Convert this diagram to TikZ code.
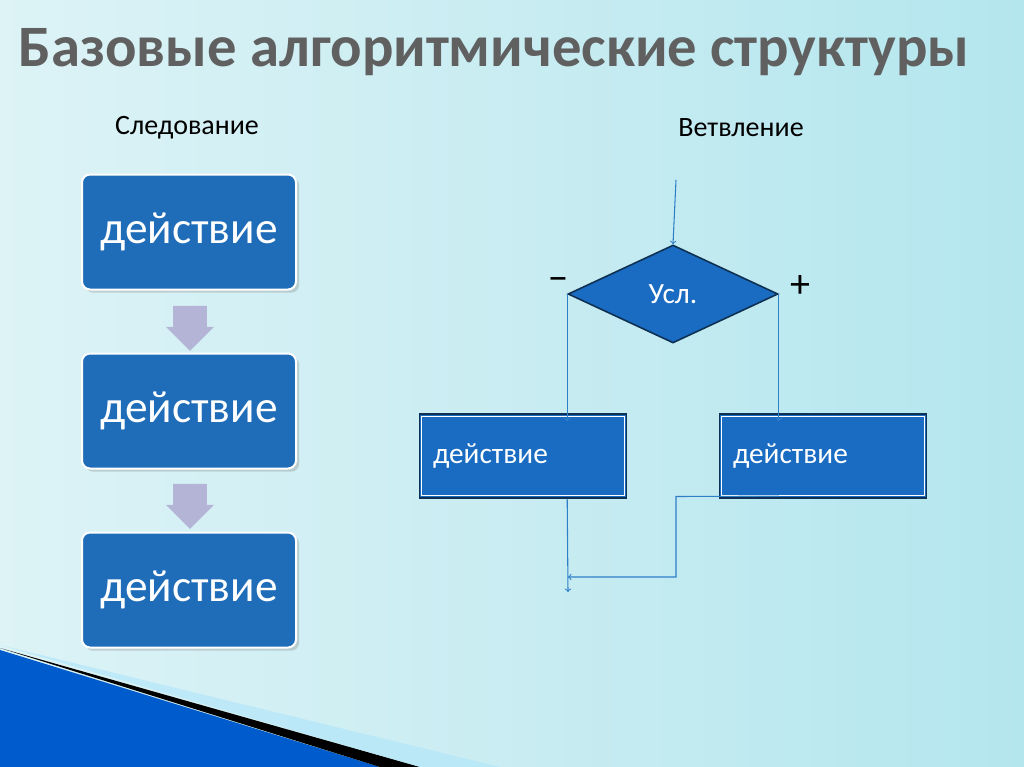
\documentclass[tikz,border=0pt]{standalone}
\usepackage{fontspec}
\setmainfont{Carlito}
\usetikzlibrary{shapes.geometric,shapes.arrows,shadows}
\definecolor{bx}{HTML}{1F6DB8}
\definecolor{bx2}{HTML}{1A6CC2}
\definecolor{ln}{HTML}{2F7FC8}
\definecolor{bgA}{HTML}{DDF3F6}
\definecolor{bgB}{HTML}{B4E6EE}
\newlength\px \setlength\px{0.75pt}
\tikzset{
 seq/.style={draw=white,line width=1.5pt,fill=bx,rounded corners=6pt,minimum width=214\px,minimum height=115\px,text=white,font=\fontsize{34}{38}\selectfont,drop shadow={opacity=0.3}},
 act/.style={draw=bx!45!black,line width=1.2pt,fill=bx2,minimum width=207\px,minimum height=84\px,text=white,font=\fontsize{22}{26}\selectfont,align=left,text width=180\px},
 con/.style={draw=ln,line width=0.8pt,->,>=to},
 bar/.style={single arrow,draw=none,fill=blue!30!gray!45,shape border rotate=270,minimum height=45\px,minimum width=48\px,single arrow head extend=2\px}
}
\begin{document}
\begin{tikzpicture}[x=0.75pt,y=-0.75pt]
\useasboundingbox (0,0) rectangle (1024,767);
\shade[left color=bgA,right color=bgB] (0,0) rectangle (1024,767);
\fill[blue!55!cyan!80!black] (0,650) -- (380,767) -- (0,767) -- cycle;
\fill[black] (0,648) -- (420,767) -- (380,767) -- cycle;
\fill[cyan!30!white,opacity=0.7] (0,645) -- (500,767) -- (420,767) -- cycle;
\node (title) [text=gray!75!black,font=\bfseries\fontsize{44}{48}\selectfont] at (494,52) {Базовые алгоритмические структуры};
\node (l1) [font=\fontsize{21}{26}\selectfont] at (187,128) {Следование};
\node (l2) [font=\fontsize{21}{26}\selectfont] at (741,128) {Ветвление};
\node[seq] (s1) at (189,232) {действие};
\node[seq] (s2) at (189,411) {действие};
\node[seq] (s3) at (189,590) {действие};
\node[bar] (a1) at (190,320) {};
\node[bar] (a2) at (190,498) {};
\node[diamond,aspect=2.1,draw=bx!45!black,line width=1.2pt,fill=bx2,minimum width=210\px,minimum height=98\px,inner sep=0,text=white,font=\fontsize{22}{26}\selectfont] (d) at (673,294) {Усл.};
\coordinate (top) at (676,180);
\draw[con] (top) -- (d.north);
\node[font=\fontsize{30}{32}\selectfont] (m) at (558,285) {−};
\node[font=\fontsize{30}{32}\selectfont] (p) at (800,287) {+};
\node[act] (r1) at (523,456) {действие};
\node[act] (r2) at (823,456) {действие};
\draw[white,line width=0.5pt] ([shift={(3,3)}]r1.north west) rectangle ([shift={(-3,-3)}]r1.south east);
\draw[white,line width=0.5pt] ([shift={(3,3)}]r2.north west) rectangle ([shift={(-3,-3)}]r2.south east);
\draw[con] (d.west) -- ([yshift=-6pt]d.west|-r1.north);
\draw[con] (d.east) -- ([yshift=-6pt]d.east|-r1.north);
\coordinate (j) at (568,592);
\draw[con] (d.west|-r1.south) -- (j);
\draw[con] ([yshift=2pt]d.east|-r2.south) -- (676,496.5) -- (676,577) -- (568,577);
\end{tikzpicture}
\end{document}
